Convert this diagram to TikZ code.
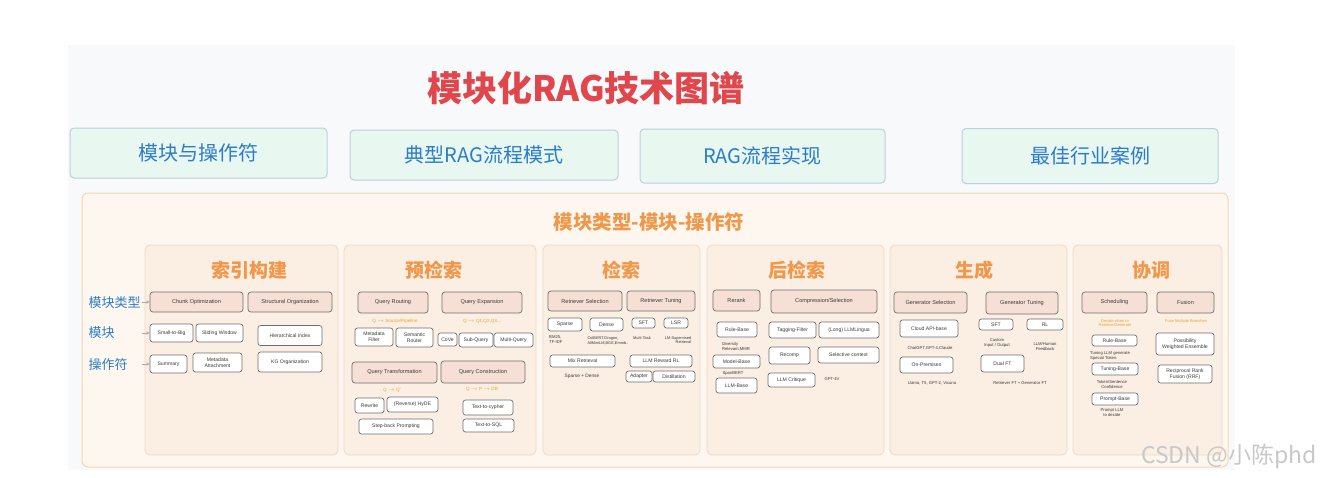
\documentclass[tikz,border=0pt]{standalone}
\usepackage{fontspec}
\setmainfont{Liberation Sans}
\newfontfamily\cjk{Noto Sans CJK SC}
\usepackage{xcolor}
\usetikzlibrary{positioning, arrows.meta}

\definecolor{bgpanel}{HTML}{F8F9FA}
\definecolor{titlered}{HTML}{E0474C}
\definecolor{topfill}{HTML}{E9F7F1}
\definecolor{topdraw}{HTML}{BCD0DA}
\definecolor{topblue}{HTML}{2B7CCB}
\definecolor{outerfill}{HTML}{FEF7EF}
\definecolor{outerdraw}{HTML}{F6D5B5}
\definecolor{colfill}{HTML}{FBEEE2}
\definecolor{coldraw}{HTML}{EED9C6}
\definecolor{titleorange}{HTML}{F0974A}
\definecolor{typefill}{HTML}{F6E0D6}
\definecolor{boxgrey}{HTML}{6E6E6E}
\definecolor{notegrey}{HTML}{3A3A3A}
\definecolor{noteorange}{HTML}{F0A030}
\definecolor{markgrey}{HTML}{C8C8C8}

\begin{document}
\begin{tikzpicture}[
    x=1pt, y=-1pt,
    topbox/.style={draw=topdraw, fill=topfill, rounded corners=4pt, line width=1pt, text=topblue, font=\cjk\fontsize{20}{24}\selectfont},
    column/.style={draw=coldraw, fill=colfill, rounded corners=5pt, line width=0.8pt},
    coltitle/.style={text=titleorange, font=\cjk\bfseries\fontsize{19}{22}\selectfont},
    sidelabel/.style={text=topblue, anchor=west, font=\cjk\fontsize{13}{15}\selectfont},
    modtype/.style={draw=boxgrey, fill=typefill, rounded corners=3pt, line width=0.7pt, inner sep=0.5pt, align=center, text=notegrey, font=\fontsize{5.6}{6.4}\selectfont},
    module/.style={draw=boxgrey, fill=white, rounded corners=2.5pt, line width=0.65pt, inner sep=0.5pt, align=center, text=notegrey, font=\fontsize{5.1}{5.8}\selectfont},
    note/.style={text=notegrey, align=center, inner sep=0pt, font=\fontsize{4.2}{5}\selectfont},
    onote/.style={text=noteorange, align=center, inner sep=0pt, font=\fontsize{4.6}{5.4}\selectfont}
]
    \useasboundingbox (0,0) rectangle (1326,477);

    % ================= BACKGROUND =================
    \fill[bgpanel] (68,45) rectangle (1235,470);

    % ================= TITLE & TOP ROW =================
    \node[text=titlered, font=\cjk\bfseries\fontsize{35}{40}\selectfont] (TITLE) at (586,88) {模块化RAG技术图谱};

    \node[topbox, minimum width=257pt, minimum height=50pt] (MODOP) at (198.5,153) {模块与操作符};
    \node[topbox, minimum width=268pt, minimum height=50pt] (PATTERN) at (484,155) {典型RAG流程模式};
    \node[topbox, minimum width=245pt, minimum height=54pt] (IMPL) at (762.5,156) {RAG流程实现};
    \node[topbox, minimum width=256pt, minimum height=55pt] (CASES) at (1090,156) {最佳行业案例};

    % ================= MAIN PANEL =================
    \node[draw=outerdraw, fill=outerfill, rounded corners=6pt, line width=1pt, minimum width=1146pt, minimum height=274pt] (PANEL) at (655,330) {};
    \node[text=titleorange, font=\cjk\bfseries\fontsize{19.5}{23}\selectfont] (SUBTITLE) at (649,222) {模块类型-模块-操作符};

    \node[column, minimum width=193pt, minimum height=210pt] (INDEX) at (241.5,350) {};
    \node[column, minimum width=192pt, minimum height=210pt] (PRE) at (440,350) {};
    \node[column, minimum width=157pt, minimum height=210pt] (RET) at (621.5,350) {};
    \node[column, minimum width=177pt, minimum height=210pt] (POST) at (795.5,350) {};
    \node[column, minimum width=177pt, minimum height=210pt] (GEN) at (978.5,350) {};
    \node[column, minimum width=149pt, minimum height=210pt] (ORCH) at (1147.5,350) {};

    \node[coltitle] (t_index) at (249,270) {索引构建};
    \node[coltitle] (t_pre) at (434,270) {预检索};
    \node[coltitle] (t_ret) at (621,270) {检索};
    \node[coltitle] (t_post) at (797,270) {后检索};
    \node[coltitle] (t_gen) at (974,270) {生成};
    \node[coltitle] (t_orch) at (1151,270) {协调};

    % ================= SIDE LABELS =================
    \node[sidelabel] (l_type) at (85,303) {模块类型};
    \node[sidelabel] (l_mod) at (85,333) {模块};
    \node[sidelabel] (l_op) at (85,365) {操作符};

    % ================= INDEXING =================
    \node[modtype, minimum width=93pt, minimum height=20pt] (i_chunk) at (196.5,302) {Chunk Optimization};
    \node[modtype, minimum width=84pt, minimum height=20pt] (i_struct) at (290,302) {Structural Organization};
    \node[module, minimum width=43pt, minimum height=18pt] (i_s2b) at (171.5,333) {Small-to-Big};
    \node[module, minimum width=47pt, minimum height=18pt] (i_slide) at (219.5,333) {Sliding Window};
    \node[module, minimum width=64pt, minimum height=20pt] (i_hier) at (290,335.5) {Hierarchical Index};
    \node[module, minimum width=37pt, minimum height=18pt] (i_summary) at (168.5,364) {Summary};
    \node[module, minimum width=49pt, minimum height=19pt] (i_meta) at (217.5,362.5) {Metadata\\Attachment};
    \node[module, minimum width=64pt, minimum height=20pt] (i_kg) at (290,362) {KG Organization};

    \coordinate (a_type) at (142,302);
    \coordinate (a_mod) at (142,333);
    \coordinate (a_op) at (142,364);
    \draw[->, >=stealth, boxgrey!60, line width=0.5pt] (a_type) -- (i_chunk);
    \draw[->, >=stealth, boxgrey!60, line width=0.5pt] (a_mod) -- (i_s2b);
    \draw[->, >=stealth, boxgrey!60, line width=0.5pt] (a_op) -- (i_summary);

    % ================= PRE-RETRIEVAL =================
    \node[modtype, minimum width=70pt, minimum height=21pt] (p_route) at (393,302.5) {Query Routing};
    \node[modtype, minimum width=80pt, minimum height=21pt] (p_expand) at (482,302.5) {Query Expansion};
    \node[onote] (p_route_n) at (395,321) {Q $\rightarrow$ Source/Pipeline};
    \node[onote] (p_expand_n) at (482,321) {Q $\rightarrow$ Q1,Q2,Q3...};
    \node[module, minimum width=38pt, minimum height=18pt] (p_mfilter) at (374,337) {Metadata\\Filter};
    \node[module, minimum width=37pt, minimum height=19pt] (p_srouter) at (414.5,337.5) {Semantic\\Router};
    \node[module, minimum width=19pt, minimum height=13pt] (p_cove) at (447.5,339.5) {CoVe};
    \node[module, minimum width=34pt, minimum height=14pt] (p_subq) at (476,340) {Sub-Query};
    \node[module, minimum width=39pt, minimum height=14pt] (p_multiq) at (513.5,340) {Multi-Query};
    \node[modtype, minimum width=85pt, minimum height=21pt] (p_trans) at (394.5,372.5) {Query Transformation};
    \node[modtype, minimum width=84pt, minimum height=22pt] (p_constr) at (483,372) {Query Construction};
    \node[onote] (p_trans_n) at (392,390) {Q $\rightarrow$ Q'};
    \node[onote] (p_constr_n) at (482,389) {Q $\rightarrow$ P $\rightarrow$ DB};
    \node[module, minimum width=29pt, minimum height=15pt] (p_rewrite) at (369.5,405.5) {Rewrite};
    \node[module, minimum width=51pt, minimum height=15pt] (p_hyde) at (412.5,404.5) {(Reverse) HyDE};
    \node[module, minimum width=50pt, minimum height=15pt] (p_cypher) at (488,407.5) {Text-to-cypher};
    \node[module, minimum width=74pt, minimum height=15pt] (p_stepback) at (396,426.5) {Step-back Prompting};
    \node[module, minimum width=51pt, minimum height=13pt] (p_sql) at (488.5,425.5) {Text-to-SQL};

    % ================= RETRIEVAL =================
    \node[modtype, minimum width=74pt, minimum height=20pt] (r_sel) at (585,301) {Retriever Selection};
    \node[modtype, minimum width=68pt, minimum height=20pt] (r_tune) at (661,301) {Retriever Tuning};
    \node[module, minimum width=34pt, minimum height=13pt] (r_sparse) at (565,324.5) {Sparse};
    \node[module, minimum width=33pt, minimum height=13pt] (r_dense) at (606.5,324.5) {Dense};
    \node[module, minimum width=23pt, minimum height=10pt] (r_sft) at (643.5,323) {SFT};
    \node[module, minimum width=24pt, minimum height=10pt] (r_lsr) at (676,323) {LSR};
    \node[note, align=left, anchor=west] (r_sparse_n) at (549,340) {BM25,\\TF-IDF};
    \node[note, align=left, font=\fontsize{3.9}{4.7}\selectfont] (r_dense_n) at (608,340.5) {ColBERT,Dragon,\\AllMiniLM,BGE,Emmb..};
    \node[note, font=\fontsize{3.9}{4.7}\selectfont] (r_sft_n) at (642,338) {Multi-Task};
    \node[note, align=right, font=\fontsize{3.9}{4.7}\selectfont] (r_lsr_n) at (678,340) {LM-Supervised\\Retrieval};
    \node[module, minimum width=65pt, minimum height=12pt] (r_mix) at (582.5,361) {Mix Retrieval};
    \node[note, font=\fontsize{4.8}{5.4}\selectfont] (r_mix_n) at (582,376) {Sparse + Dense};
    \node[module, minimum width=62pt, minimum height=12pt] (r_rlr) at (661,361) {LLM Reward RL};
    \node[module, minimum width=26pt, minimum height=11pt] (r_adapter) at (639,376.5) {Adapter};
    \node[module, minimum width=42pt, minimum height=11pt] (r_distill) at (674,376.5) {Distillation};

    % ================= POST-RETRIEVAL =================
    \node[modtype, minimum width=47pt, minimum height=21pt] (o_rerank) at (736.5,300.5) {Rerank};
    \node[modtype, minimum width=106pt, minimum height=23pt] (o_comp) at (824,301.5) {Compression/Selection};
    \node[module, minimum width=40pt, minimum height=15pt] (o_rule) at (737,329.5) {Rule-Base};
    \node[note, align=left] (o_rule_n) at (736,347) {Diversity\\Relevant,MMR};
    \node[module, minimum width=47pt, minimum height=13pt] (o_model) at (736.5,361.5) {Model-Base};
    \node[note] (o_model_n) at (733,373.5) {SpanBERT};
    \node[module, minimum width=41pt, minimum height=15pt] (o_llm) at (736.5,385.5) {LLM-Base};
    \node[module, minimum width=47pt, minimum height=16pt] (o_tag) at (792.5,330) {Tagging-Filter};
    \node[module, minimum width=60pt, minimum height=16pt] (o_lingua) at (849,330) {(Long) LLMLingua};
    \node[module, minimum width=41pt, minimum height=17pt] (o_recomp) at (789.5,355.5) {Recomp};
    \node[module, minimum width=61pt, minimum height=16pt] (o_selctx) at (848.5,355) {Selective context};
    \node[module, minimum width=47pt, minimum height=14pt] (o_critique) at (791.5,380) {LLM Critique};
    \node[note] (o_critique_n) at (832,379) {GPT-4V};

    % ================= GENERATION =================
    \node[modtype, minimum width=73pt, minimum height=21pt] (g_sel) at (930.5,302.5) {Generator Selection};
    \node[modtype, minimum width=72pt, minimum height=22pt] (g_tune) at (1022,303) {Generator Tuning};
    \node[module, minimum width=58pt, minimum height=17pt] (g_cloud) at (929,328.5) {Cloud API-base};
    \node[note] (g_cloud_n) at (930,348) {ChatGPT,GPT-4,Claude};
    \node[module, minimum width=53pt, minimum height=16pt] (g_onprem) at (926.5,365) {On-Premises};
    \node[note] (g_onprem_n) at (932,383) {Llama, T5, GPT-2, Vicuna};
    \node[module, minimum width=34pt, minimum height=11pt] (g_sft) at (996,324.5) {SFT};
    \node[module, minimum width=36pt, minimum height=11pt] (g_rl) at (1045,324.5) {RL};
    \node[note] (g_sft_n) at (997,343) {Custom\\Input / Output};
    \node[note] (g_rl_n) at (1045,346) {LLM/Human\\Feedback};
    \node[module, minimum width=43pt, minimum height=17pt] (g_dual) at (1002.5,363.5) {Dual FT};
    \node[note] (g_dual_n) at (1020,383) {Retriever FT + Generator FT};

    % ================= ORCHESTRATION =================
    \node[modtype, minimum width=65pt, minimum height=21pt] (h_sched) at (1114.5,302.5) {Scheduling};
    \node[modtype, minimum width=57pt, minimum height=21pt] (h_fusion) at (1185.5,302.5) {Fusion};
    \node[onote, font=\fontsize{4}{4.8}\selectfont] (h_sched_n) at (1115,323) {Decide when to\\Retrieve/Generate};
    \node[onote, font=\fontsize{4}{4.8}\selectfont] (h_fusion_n) at (1186,321) {Fuse Multiple Branches};
    \node[module, minimum width=45pt, minimum height=11pt] (h_rule) at (1114.5,340.5) {Rule-Base};
    \node[note, align=left, anchor=west] (h_rule_n) at (1090,355.5) {Tuning LLM generate\\Special Token.};
    \node[module, minimum width=46pt, minimum height=12pt] (h_tuning) at (1115,369) {Tuning-Base};
    \node[note] (h_tuning_n) at (1112,384) {Token/Sentence\\Confidence};
    \node[module, minimum width=46pt, minimum height=12pt] (h_prompt) at (1115,399) {Prompt-Base};
    \node[note] (h_prompt_n) at (1112,413) {Prompt LLM\\to decide};
    \node[module, minimum width=58pt, minimum height=22pt] (h_ensemble) at (1185,344) {Possibility\\Weighted Ensemble};
    \node[module, minimum width=54pt, minimum height=18pt] (h_rrf) at (1185,374) {Reciprocal Rank\\Fusion (RRF)};

    % ================= WATERMARK =================
    \node[text=markgrey, font=\cjk\fontsize{23}{27}\selectfont] (MARK) at (1229,456) {CSDN @小陈phd};

\end{tikzpicture}
\end{document}
